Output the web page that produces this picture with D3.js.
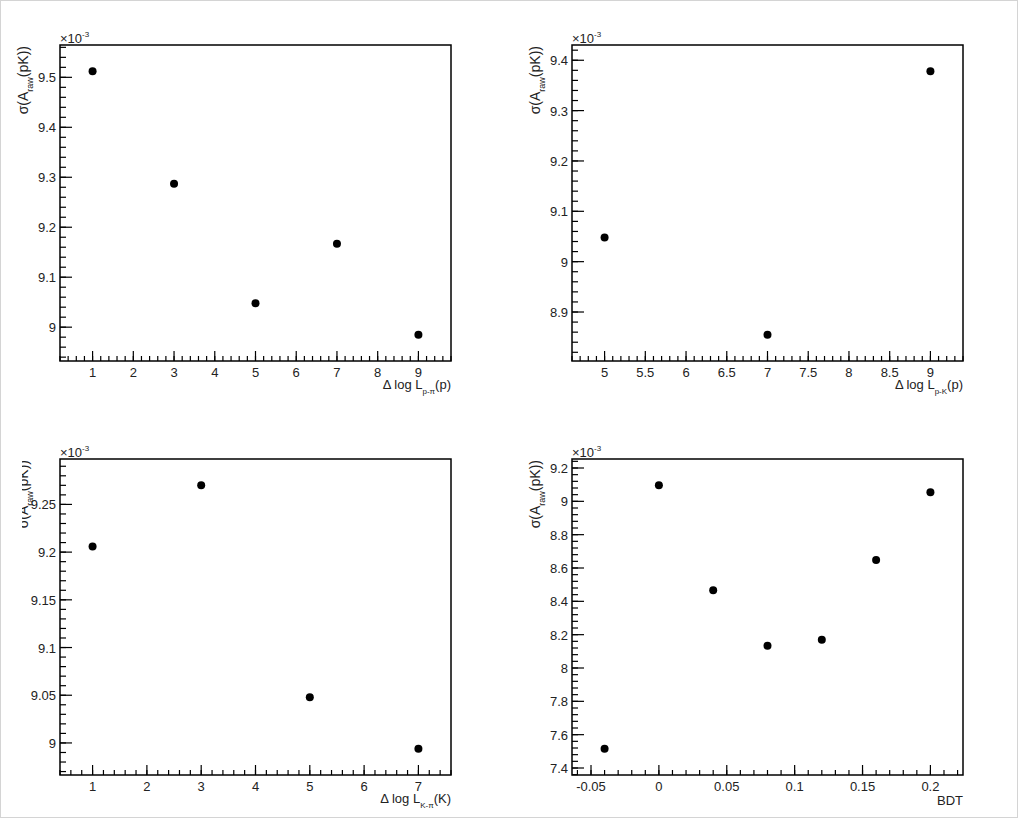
<!DOCTYPE html>
<html>
<head>
<meta charset="utf-8">
<script src="https://cdn.jsdelivr.net/npm/d3@7"></script>
<style>
  body { margin: 0; background: #fff; }
  svg { display: block; font-family: "Liberation Sans", Arial, Helvetica, sans-serif; }
</style>
</head>
<body>
<svg id="canvas" width="1024" height="822"></svg>
<script>
// values (sigma(A_raw), units of 1e-3)
const cutPpi = [1, 3, 5, 7, 9];
const sigmaPpi = [9.512, 9.287, 9.048, 9.167, 8.985];

const cutPK = [5, 7, 9];
const sigmaPK = [9.048, 8.855, 9.378];

const cutKpi = [1, 3, 5, 7];
const sigmaKpi = [9.206, 9.270, 9.048, 8.994];

const cutBDT = [-0.04, 0, 0.04, 0.08, 0.12, 0.16, 0.2];
const sigmaBDT = [7.516, 9.096, 8.466, 8.134, 8.170, 8.648, 9.054];

const exponent = "-3";

const panels = [
    {xs: cutPpi, ys: sigmaPpi, x0: 60, y0: 45, xMajor: 1, yMajor: 0.1, xTitle: ["Δ log L", "p-π", "(p)"], titleDy: 28},
    {xs: cutPK, ys: sigmaPK, x0: 572, y0: 45, xMajor: 0.5, yMajor: 0.1, xTitle: ["Δ log L", "p-K", "(p)"], titleDy: 28},
    {xs: cutKpi, ys: sigmaKpi, x0: 60, y0: 459, xMajor: 1, yMajor: 0.05, xTitle: ["Δ log L", "K-π", "(K)"], titleDy: 28, clipTitle: true},
    {xs: cutBDT, ys: sigmaBDT, x0: 572, y0: 459, xMajor: 0.05, yMajor: 0.2, xTitle: ["BDT", "", ""], titleDy: 30}
];

const W = 391, H = 316;
const svg = d3.select('#canvas');

svg.append('rect')
    .attr('x', 0.5).attr('y', 0.5)
    .attr('width', 1017).attr('height', 817)
    .attr('fill', '#fff')
    .attr('stroke', '#d4d4d4');

svg.append('defs').append('clipPath').attr('id', 'titleClip')
    .append('rect').attr('x', 22).attr('y', 400).attr('width', 40).attr('height', 200);

const fmt = v => String(+v.toFixed(4));

// ROOT style range: 10% padding around the data
function padded(arr) {
    const [lo, hi] = d3.extent(arr);
    const d = hi - lo;
    return [lo - 0.1 * d, hi + 0.1 * d];
}

function ticksFor(domain, step) {
    const start = Math.ceil(domain[0] / step - 1e-9);
    const end = Math.floor(domain[1] / step + 1e-9);
    return d3.range(start, end + 1).map(i => +(i * step).toFixed(6));
}

panels.forEach(p => {
    const g = svg.append('g').attr('transform', `translate(${p.x0}, ${p.y0})`);
    const xScale = d3.scaleLinear().domain(padded(p.xs)).range([0, W]);
    const yScale = d3.scaleLinear().domain(padded(p.ys)).range([H, 0]);

    const xMajors = ticksFor(xScale.domain(), p.xMajor);
    const xMinors = ticksFor(xScale.domain(), p.xMajor / 5);
    const yMajors = ticksFor(yScale.domain(), p.yMajor);
    const yMinors = ticksFor(yScale.domain(), p.yMajor / 5);

    // minor ticks
    g.append('g').selectAll('line').data(xMinors).join('line')
        .attr('x1', d => xScale(d)).attr('x2', d => xScale(d))
        .attr('y1', H).attr('y2', H - 5)
        .attr('stroke', 'black').attr('stroke-width', 1.2);
    g.append('g').selectAll('line').data(yMinors).join('line')
        .attr('y1', d => yScale(d)).attr('y2', d => yScale(d))
        .attr('x1', 0).attr('x2', 6)
        .attr('stroke', 'black').attr('stroke-width', 1.2);

    // major ticks
    g.append('g').selectAll('line').data(xMajors).join('line')
        .attr('x1', d => xScale(d)).attr('x2', d => xScale(d))
        .attr('y1', H).attr('y2', H - 10)
        .attr('stroke', 'black').attr('stroke-width', 1.2);
    g.append('g').selectAll('line').data(yMajors).join('line')
        .attr('y1', d => yScale(d)).attr('y2', d => yScale(d))
        .attr('x1', 0).attr('x2', 12)
        .attr('stroke', 'black').attr('stroke-width', 1.2);

    // tick labels
    g.append('g').selectAll('text').data(xMajors).join('text')
        .attr('x', d => xScale(d))
        .attr('y', H + 16)
        .attr('text-anchor', 'middle')
        .attr('font-size', 13)
        .attr('fill', '#222')
        .text(fmt);
    g.append('g').selectAll('text').data(yMajors).join('text')
        .attr('x', -4)
        .attr('y', d => yScale(d) + 5)
        .attr('text-anchor', 'end')
        .attr('font-size', 13)
        .attr('fill', '#222')
        .text(fmt);

    // frame
    g.append('rect')
        .attr('width', W).attr('height', H)
        .attr('fill', 'none')
        .attr('stroke', 'black')
        .attr('stroke-width', 1.5);

    // exponent
    const ex = g.append('text').attr('x', 0).attr('y', -2).attr('font-size', 13).attr('fill', '#222');
    ex.append('tspan').text('×10');
    ex.append('tspan').attr('dy', -6).attr('font-size', 8).text(exponent);

    // x title
    const xt = g.append('text')
        .attr('x', W).attr('y', H + p.titleDy)
        .attr('text-anchor', 'end')
        .attr('font-size', 13)
        .attr('fill', '#222');
    xt.append('tspan').text(p.xTitle[0]);
    if (p.xTitle[1]) {
        xt.append('tspan').attr('dy', 5).attr('font-size', 8).text(p.xTitle[1]);
        xt.append('tspan').attr('dy', -5).text(p.xTitle[2]);
    }

    // y title
    const ytg = svg.append('g');
    if (p.clipTitle) ytg.attr('clip-path', 'url(#titleClip)');
    const yt = ytg.append('text')
        .attr('transform', `translate(${p.x0 - 32}, ${p.y0 + 1}) rotate(-90)`)
        .attr('text-anchor', 'end')
        .attr('font-size', 14)
        .attr('fill', '#222');
    yt.append('tspan').text('σ(A');
    yt.append('tspan').attr('dy', 5).attr('font-size', 9).text('raw');
    yt.append('tspan').attr('dy', -5).text('(pK))');

    // points
    g.selectAll('circle').data(p.xs).join('circle')
        .attr('cx', d => xScale(d))
        .attr('cy', (d, i) => yScale(p.ys[i]))
        .attr('r', 4)
        .attr('fill', 'black');
});
</script>
</body>
</html>
